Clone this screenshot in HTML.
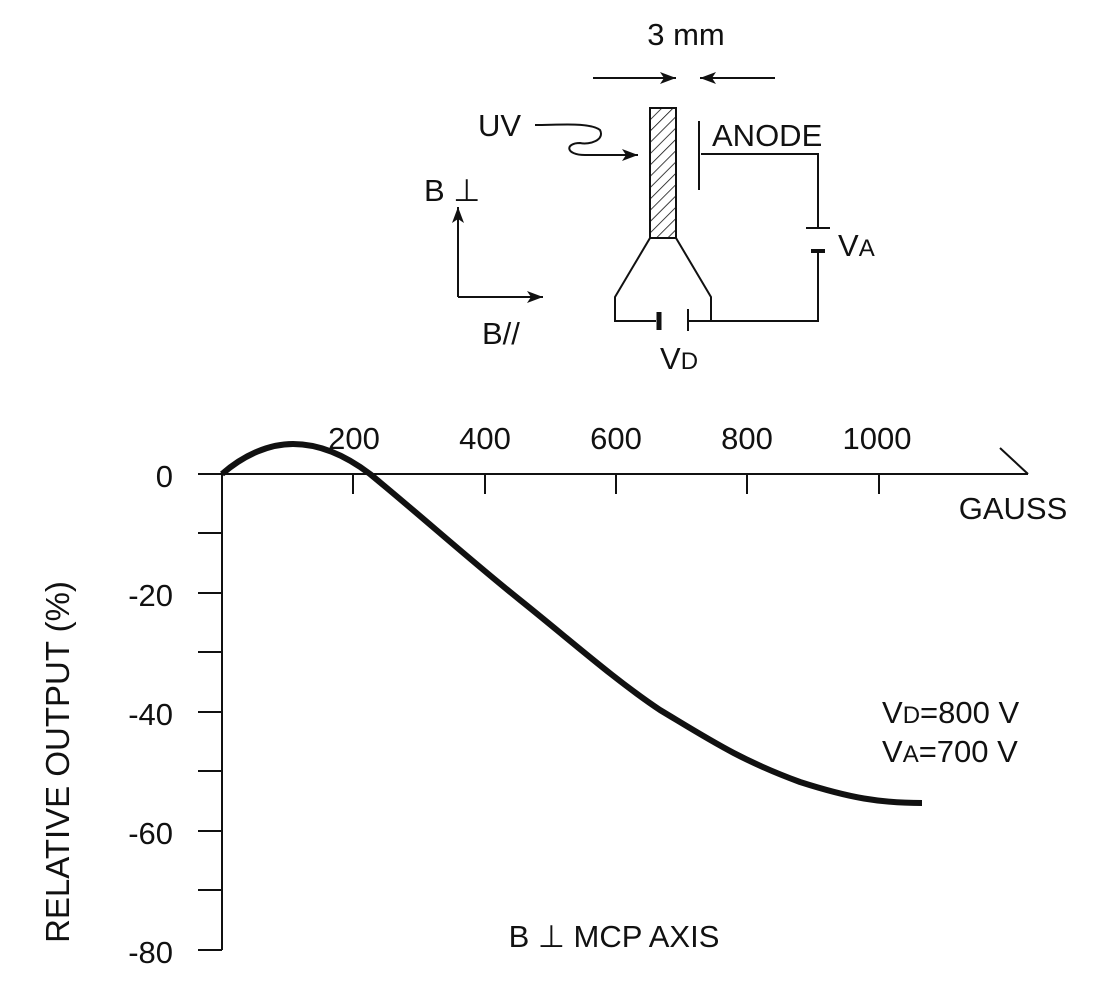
<!DOCTYPE html>
<html><head><style>
html,body{margin:0;padding:0;background:#fff;}
svg{display:block;}
text{font-family:"Liberation Sans",Arial,sans-serif;fill:#111;}
</style></head><body>
<svg width="1104" height="1002" viewBox="0 0 1104 1002" xmlns="http://www.w3.org/2000/svg">
<defs>
<pattern id="h" width="8" height="8" patternUnits="userSpaceOnUse" patternTransform="rotate(45)">
<line x1="0" y1="0" x2="0" y2="8" stroke="#111" stroke-width="1.6"/>
</pattern>
<marker id="ar" viewBox="0 0 16 12" refX="16" refY="6" markerWidth="16" markerHeight="12" markerUnits="userSpaceOnUse" orient="auto">
<path d="M0,0 L16,6 L0,12 L4,6 Z" fill="#111"/>
</marker>
</defs>
<rect width="1104" height="1002" fill="#fff"/>
<g stroke="#111" stroke-width="2" fill="none">
<line x1="593" y1="78" x2="676" y2="78" marker-end="url(#ar)"/>
<line x1="775" y1="78" x2="700" y2="78" marker-end="url(#ar)"/>
<rect x="650" y="108" width="26" height="130" fill="url(#h)"/>
<polyline points="650,238 615,297 615,321 656,321"/>
<polyline points="676,238 711,297 711,321"/>
<line x1="659" y1="312" x2="659" y2="330" stroke-width="5"/>
<line x1="688" y1="309" x2="688" y2="331"/>
<polyline points="688,321 818,321 818,251"/>
<line x1="811" y1="251" x2="825" y2="251" stroke-width="4"/>
<line x1="806" y1="228" x2="830" y2="228"/>
<polyline points="818,228 818,154 701,154"/>
<line x1="699" y1="121" x2="699" y2="190"/>
<path d="M535,125 C560,125 590,122 600,130 C605,140 590,145 580,143 C565,143 565,155 585,155 L638,155" marker-end="url(#ar)"/>
<line x1="458" y1="297" x2="458" y2="207" marker-end="url(#ar)"/>
<line x1="458" y1="297" x2="543" y2="297" marker-end="url(#ar)"/>
<line x1="198" y1="474" x2="1028" y2="474"/>
<line x1="1000" y1="448" x2="1028" y2="474"/>
<line x1="222" y1="474" x2="222" y2="950"/>
<line x1="198" y1="533" x2="222" y2="533"/>
<line x1="198" y1="593" x2="222" y2="593"/>
<line x1="198" y1="652" x2="222" y2="652"/>
<line x1="198" y1="712" x2="222" y2="712"/>
<line x1="198" y1="771" x2="222" y2="771"/>
<line x1="198" y1="831" x2="222" y2="831"/>
<line x1="198" y1="890" x2="222" y2="890"/>
<line x1="198" y1="950" x2="222" y2="950"/>
<line x1="353" y1="474" x2="353" y2="494"/>
<line x1="485" y1="474" x2="485" y2="494"/>
<line x1="616" y1="474" x2="616" y2="494"/>
<line x1="747" y1="474" x2="747" y2="494"/>
<line x1="879" y1="474" x2="879" y2="494"/>
<path d="M222,474 C245,454 270,444 293,444 C320,444 345,455 370,474 C420,515 470,560 520,600 C570,640 615,680 660,710 C710,740 740,760 800,782 C850,798 880,803 922,803" stroke-width="6"/>
</g>
<g font-size="31">
<text x="686" y="45" text-anchor="middle">3 mm</text>
<text x="478" y="136">UV</text>
<text x="712" y="146">ANODE</text>
<text x="838" y="256">V<tspan font-size="24">A</tspan></text>
<text x="660" y="369">V<tspan font-size="24">D</tspan></text>
<text x="424" y="201">B ⊥</text>
<text x="482" y="344">B//</text>
<text x="173" y="487" text-anchor="end">0</text>
<text x="173" y="606" text-anchor="end">-20</text>
<text x="173" y="725" text-anchor="end">-40</text>
<text x="173" y="844" text-anchor="end">-60</text>
<text x="173" y="963" text-anchor="end">-80</text>
<text x="354" y="449" text-anchor="middle">200</text>
<text x="485" y="449" text-anchor="middle">400</text>
<text x="616" y="449" text-anchor="middle">600</text>
<text x="747" y="449" text-anchor="middle">800</text>
<text x="877" y="449" text-anchor="middle">1000</text>
<text x="1013" y="519" text-anchor="middle">GAUSS</text>
<text x="614" y="947" text-anchor="middle">B ⊥ MCP AXIS</text>
<text x="882" y="723">V<tspan font-size="24">D</tspan>=800 V</text>
<text x="882" y="762">V<tspan font-size="24">A</tspan>=700 V</text>
<text transform="translate(69,762) rotate(-90)" text-anchor="middle" font-size="33">RELATIVE OUTPUT (%)</text>
</g>
</svg>
</body></html>
